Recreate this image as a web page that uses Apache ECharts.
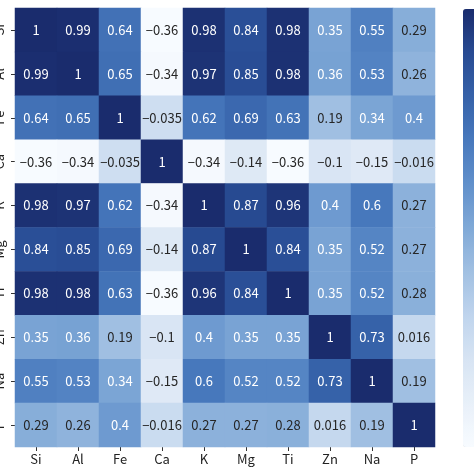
<!DOCTYPE html>
<html>
<head>
<meta charset="utf-8">
<script src="https://cdn.jsdelivr.net/npm/echarts@6/dist/echarts.min.js"></script>
<style>
  html, body { margin: 0; padding: 0; background: #fff; }
  #chart { width: 474px; height: 474px; }
</style>
</head>
<body>
<div id="chart"></div>
<script>
// element names (same order on both axes)
var elements = ["Si", "Al", "Fe", "Ca", "K", "Mg", "Ti", "Zn", "Na", "P"];

// correlation rows
var rowSi = [1, 0.99, 0.64, -0.36, 0.98, 0.84, 0.98, 0.35, 0.55, 0.29];
var rowAl = [0.99, 1, 0.65, -0.34, 0.97, 0.85, 0.98, 0.36, 0.53, 0.26];
var rowFe = [0.64, 0.65, 1, -0.035, 0.62, 0.69, 0.63, 0.19, 0.34, 0.4];
var rowCa = [-0.36, -0.34, -0.035, 1, -0.34, -0.14, -0.36, -0.1, -0.15, -0.016];
var rowK = [0.98, 0.97, 0.62, -0.34, 1, 0.87, 0.96, 0.4, 0.6, 0.27];
var rowMg = [0.84, 0.85, 0.69, -0.14, 0.87, 1, 0.84, 0.35, 0.52, 0.27];
var rowTi = [0.98, 0.98, 0.63, -0.36, 0.96, 0.84, 1, 0.35, 0.52, 0.28];
var rowZn = [0.35, 0.36, 0.19, -0.1, 0.4, 0.35, 0.35, 1, 0.73, 0.016];
var rowNa = [0.55, 0.53, 0.34, -0.15, 0.6, 0.52, 0.52, 0.73, 1, 0.19];
var rowP = [0.29, 0.26, 0.4, -0.016, 0.27, 0.27, 0.28, 0.016, 0.19, 1];

var rows = [rowSi, rowAl, rowFe, rowCa, rowK, rowMg, rowTi, rowZn, rowNa, rowP];

var font = "'Noto Sans CJK SC', 'DejaVu Sans', sans-serif";

var data = [];
rows.forEach(function (row, y) {
  row.forEach(function (v, x) {
    data.push({
      value: [x, y, v],
      label: { color: v >= 0.3 ? "#ffffff" : "#262626" }
    });
  });
});

var myChart = echarts.init(document.getElementById("chart"));
myChart.setOption({
  animation: false,
  backgroundColor: "#ffffff",
  grid: { left: 15, top: 8, width: 420, height: 439, outerBoundsMode: "none", containLabel: false },
  xAxis: {
    type: "category",
    data: elements,
    axisLine: { show: false },
    axisTick: { show: true, length: 4, alignWithLabel: true, lineStyle: { color: "#333" } },
    axisLabel: { color: "#222", fontSize: 13, fontFamily: font, margin: 6 },
    splitArea: { show: false }
  },
  yAxis: {
    type: "category",
    data: elements,
    inverse: true,
    axisLine: { show: false },
    axisTick: { show: true, length: 4, alignWithLabel: true, lineStyle: { color: "#333" } },
    // labels sit partly outside the canvas, like the cropped original
    axisLabel: { color: "#222", fontSize: 13, fontFamily: font, margin: 9, rotate: 90 }
  },
  visualMap: {
    type: "continuous",
    min: -0.36,
    max: 1,
    calculable: false,
    orient: "vertical",
    left: 463,
    top: 9,
    padding: 0,
    itemWidth: 30,
    itemHeight: 438,
    text: null,
    showLabel: false,
    inRange: {
      color: ["#f7fbff", "#e8f0f9", "#d7e4f3", "#bfd4ed", "#a1c0e2", "#80a9d7",
              "#6190cb", "#4879bd", "#3662a9", "#284b93", "#1a2c6d"]
    }
  },
  series: [{
    type: "heatmap",
    data: data,
    label: {
      show: true,
      fontSize: 13,
      fontFamily: font,
      formatter: function (p) { return String(p.value[2]).replace("-", "\u2212"); }
    },
    itemStyle: { borderWidth: 0 }
  }]
});
</script>
</body>
</html>
